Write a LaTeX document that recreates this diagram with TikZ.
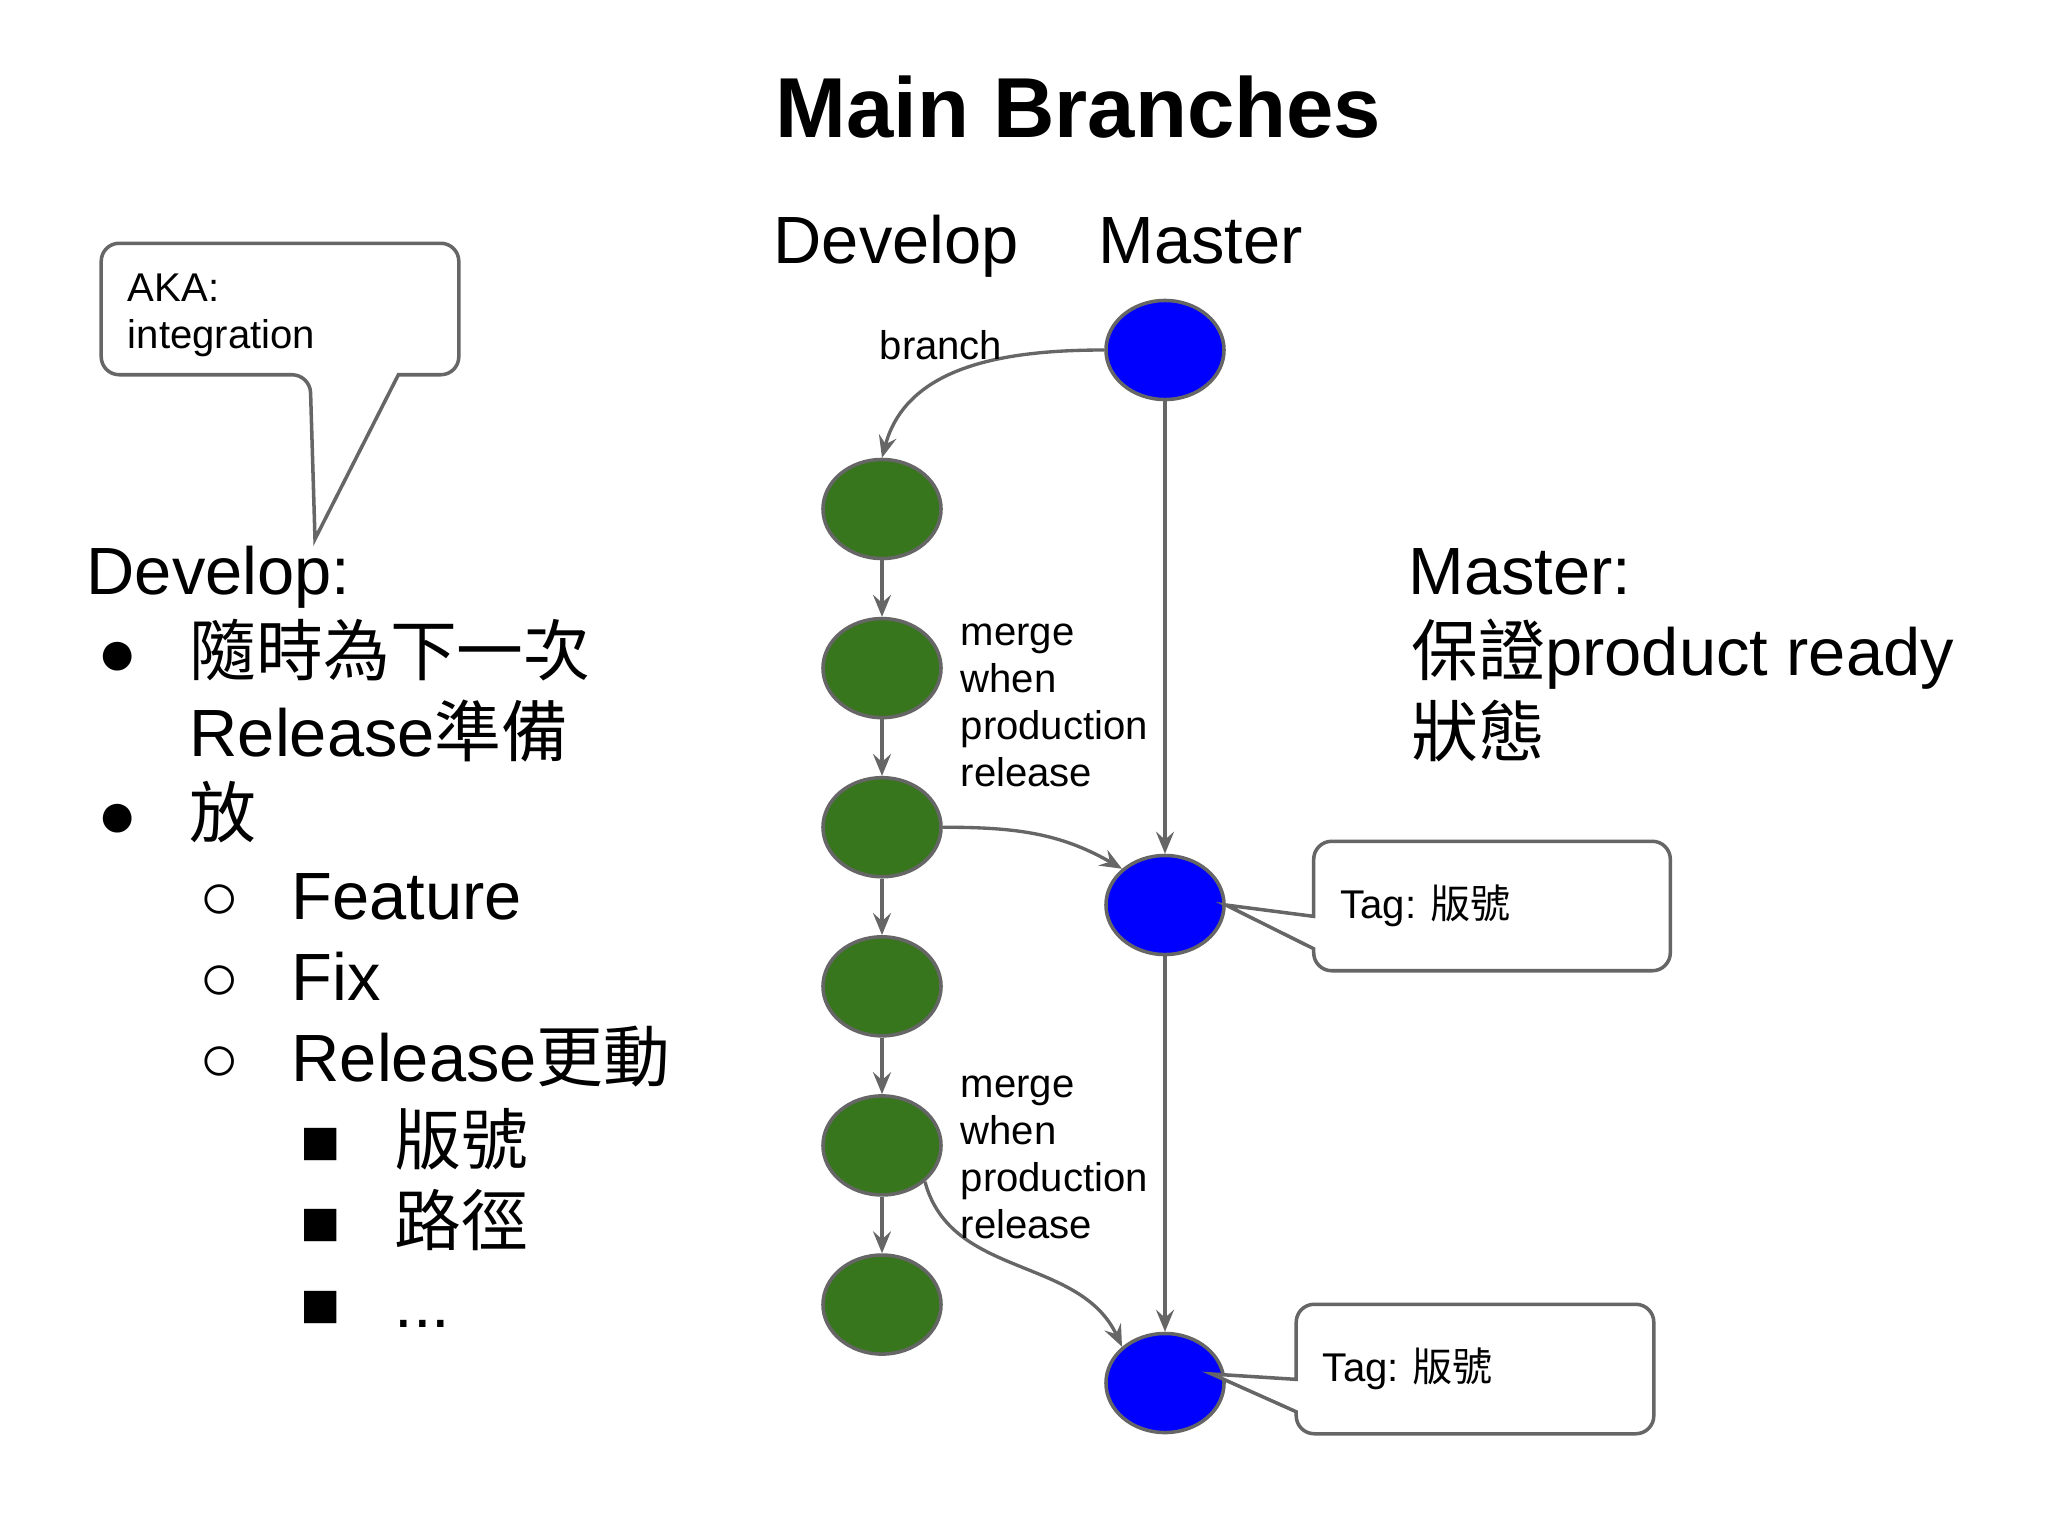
\documentclass[tikz,border=0pt]{standalone}
\usepackage{fontspec}
\setmainfont{Liberation Sans}
\newfontfamily\cjk{Noto Sans CJK TC}
\usetikzlibrary{positioning,shapes.geometric,arrows.meta,calc}

\definecolor{devgreen}{HTML}{38761D}
\definecolor{masterblue}{HTML}{0000FF}
\definecolor{edgegray}{HTML}{666666}

\tikzset{
  commit/.style={ellipse, draw=edgegray, line width=1pt, minimum width=1.18cm,
    minimum height=0.99cm, inner sep=0pt},
  devcommit/.style={commit, fill=devgreen},
  mastercommit/.style={commit, fill=masterblue},
  flow/.style={draw=edgegray, line width=0.95pt,
    -{Stealth[length=2.2mm,width=1.8mm,inset=0.8mm]}},
  bigtext/.style={font=\fontsize{19}{23}\selectfont, inner sep=0pt, anchor=base west},
  smalltext/.style={font=\fontsize{11.4}{13.4}\selectfont, inner sep=0pt},
  bubble/.style={draw=edgegray, line width=1pt, fill=white, rounded corners=0.18cm},
  bubbletext/.style={smalltext, inner xsep=0.26cm, align=left},
}

\begin{document}
\begin{tikzpicture}[x=0.01cm, y=-0.01cm, node distance=0.565cm]
  \fill[white] (0,0) rectangle (2048,1536);
  \useasboundingbox (0,0) rectangle (2048,1536);

  % headings
  \node[bigtext, font=\fontsize{24.2}{29}\selectfont\bfseries] (title) at (775,137) {Main Branches};
  \node[bigtext] (devhead) at (773,263) {Develop};
  \node[bigtext] (masterhead) at (1098,263) {Master};

  % commits
  \node[mastercommit] (m1) at (1165,350) {};
  \node[mastercommit] (m2) at (1165,905) {};
  \node[mastercommit] (m3) at (1165,1383) {};
  \node[devcommit] (g1) at (882,509) {};
  \node[devcommit, below=of g1] (g2) {};
  \node[devcommit, below=of g2] (g3) {};
  \node[devcommit, below=of g3] (g4) {};
  \node[devcommit, below=of g4] (g5) {};
  \node[devcommit, below=of g5] (g6) {};

  % edges
  \foreach \a/\b in {g1/g2,g2/g3,g3/g4,g4/g5,g5/g6}
    \draw[flow] (\a) -- (\b);
  \draw[flow] (m1) -- (m2);
  \draw[flow] (m2) -- (m3);
  \draw[flow] (m1.west) to[out=180,in=75] (g1.north);
  \draw[flow] (g3.east) to[out=0,in=150] (m2.north west);
  \draw[flow] (g5.south east) to[out=-75,in=115] (m3.north west);

  % edge labels
  \node[smalltext] (branchlabel) at (941,345) {branch};
  \node[smalltext, align=left, anchor=north west] (merge1) at (960,623)
    {merge\\when\\production\\release};
  \node[smalltext, align=left, anchor=north west] (merge2) at (960,1075)
    {merge\\when\\production\\release};

  % tags
  \node[bubbletext, minimum width=3.55cm, minimum height=1.28cm, text width=3.03cm]
    (tag1) at (1492,906) {};
  \draw[bubble] ($(tag1.south west)!0.42!(tag1.north west)$) -- (tag1.north west)
    -- (tag1.north east) -- (tag1.south east) -- (tag1.south west) [sharp corners]
    -- ($(tag1.south west)!0.17!(tag1.north west)$) -- (m2.east) -- cycle;
  \node[bubbletext, minimum width=3.55cm, minimum height=1.28cm, text width=3.03cm]
    (tag1) at (1492,906) {Tag:\hspace{0.14cm}{\cjk 版號}};

  \node[bubbletext, minimum width=3.56cm, minimum height=1.28cm, text width=3.04cm]
    (tag2) at (1475,1369) {};
  \draw[bubble] ($(tag2.south west)!0.42!(tag2.north west)$) -- (tag2.north west)
    -- (tag2.north east) -- (tag2.south east) -- (tag2.south west) [sharp corners]
    -- ($(tag2.south west)!0.17!(tag2.north west)$)
    -- ([shift={(-0.14cm,0.09cm)}]m3.east) -- cycle;
  \node[bubbletext, minimum width=3.56cm, minimum height=1.28cm, text width=3.04cm]
    (tag2) at (1475,1369) {Tag:\hspace{0.14cm}{\cjk 版號}};

  % aka bubble
  \coordinate (akatip) at (315,539);
  \node[bubbletext, minimum width=3.56cm, minimum height=1.30cm, text width=3.04cm]
    (aka) at (280,309) {};
  \draw[bubble] ($(aka.south west)!0.831!(aka.south east)$) -- (aka.south east)
    -- (aka.north east) -- (aka.north west) -- (aka.south west)
    -- ($(aka.south west)!0.584!(aka.south east)$) [sharp corners] -- (akatip) -- cycle;
  \node[bubbletext, text width=3.04cm] (akatext) at (280,315) {AKA:\\integration};

  % develop notes
  \node[bigtext] (devnote) at (86,594) {Develop:};
  \node[bigtext] (dot1) at (97,675) {●};
  \node[bigtext] (note1) at (189,675) {\cjk 隨時為下一次};
  \node[bigtext] (note2) at (189,756) {Release{\cjk 準備}};
  \node[bigtext] (dot2) at (97,837) {●};
  \node[bigtext] (note3) at (189,837) {\cjk 放};
  \node[bigtext] (ring1) at (199,919) {○};
  \node[bigtext] (note4) at (291,919) {Feature};
  \node[bigtext] (ring2) at (199,1000) {○};
  \node[bigtext] (note5) at (291,1000) {Fix};
  \node[bigtext] (ring3) at (199,1081) {○};
  \node[bigtext] (note6) at (291,1081) {Release{\cjk 更動}};
  \node[bigtext] (box1) at (300,1164) {■};
  \node[bigtext] (note7) at (394,1164) {\cjk 版號};
  \node[bigtext] (box2) at (300,1245) {■};
  \node[bigtext] (note8) at (394,1245) {\cjk 路徑};
  \node[bigtext] (box3) at (300,1327) {■};
  \node[bigtext] (note9) at (394,1327) {...};

  % master notes
  \node[bigtext] (masternote) at (1408,594) {Master:};
  \node[bigtext] (mnote1) at (1411,675) {{\cjk 保證}product ready};
  \node[bigtext] (mnote2) at (1411,756) {\cjk 狀態};
\end{tikzpicture}
\end{document}
